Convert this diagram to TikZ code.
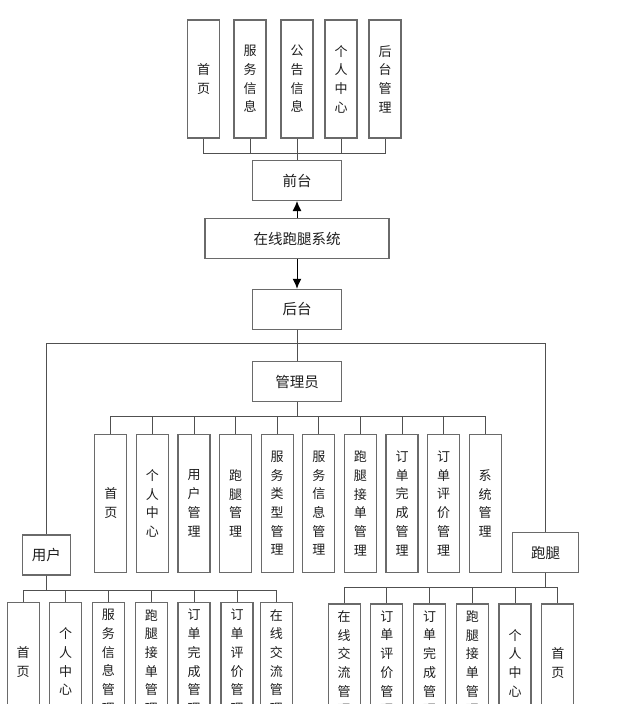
\documentclass[tikz,border=0pt]{standalone}
\usepackage{fontspec}
\setmainfont{Noto Sans CJK SC}
\usepackage{xcolor}
\usetikzlibrary{arrows.meta}
\definecolor{linegray}{HTML}{505050}
\definecolor{boxgray}{HTML}{6A6A6A}
\definecolor{textdark}{HTML}{1E1E1E}

\begin{document}
\begin{tikzpicture}[
    x=1pt, y=-1pt,
    mainbox/.style={rectangle, draw=boxgray, line width=1.1pt, fill=white, text=textdark,
      minimum height=40pt, inner sep=0pt, font=\fontsize{14.5}{17}\selectfont},
    itembox/.style={rectangle, draw=boxgray, line width=1.1pt, fill=white, text=textdark,
      minimum width=32pt, inner sep=0pt, align=center, font=\fontsize{13}{18.7}\selectfont},
    link/.style={draw=linegray, line width=1pt},
  ]

  \useasboundingbox (0,0) rectangle (626,704);
  \clip (0,0) rectangle (626,704);

  % front end
  \node[itembox, minimum height=118pt] (fr1) at (203.5, 79) {首\\页};
  \node[itembox, minimum height=118pt] (fr2) at (250, 79)   {服\\务\\信\\息};
  \node[itembox, minimum height=118pt] (fr3) at (297, 79)   {公\\告\\信\\息};
  \node[itembox, minimum height=118pt] (fr4) at (341, 79)   {个\\人\\中\\心};
  \node[itembox, minimum height=118pt] (fr5) at (385, 79)   {后\\台\\管\\理};

  \node[mainbox, minimum width=89pt]  (qt) at (297, 180.5) {前台};
  \node[mainbox, minimum width=184pt] (xt) at (297, 238.5) {在线跑腿系统};
  \node[mainbox, minimum width=89pt]  (ht) at (297, 309.3) {后台};

  \draw[link] (fr1.south) -- ++(0,15.3) -| (qt.north);
  \draw[link] (fr2.south) -- ++(0,15.3) -| (qt.north);
  \draw[link] (fr3.south) -- (qt.north);
  \draw[link] (fr4.south) -- ++(0,15.3) -| (qt.north);
  \draw[link] (fr5.south) -- ++(0,15.3) -| (qt.north);

  \draw[line width=1pt, -{Latex[length=10pt, width=9pt]}] (xt.north) -- (qt.south);
  \draw[line width=1pt, -{Latex[length=10pt, width=9pt]}] (xt.south) -- (ht.north);

  % back end roles
  \node[mainbox, minimum width=89pt] (gly) at (297, 381.7)   {管理员};
  \node[mainbox, minimum width=48.5pt] (yh) at (46.4, 555)   {用户};
  \node[mainbox, minimum width=66.5pt] (pt) at (545.5, 552.5) {跑腿};

  \draw[link] (ht.south) -- (gly.north);
  \draw[link] (ht.south) -- ++(0,14) -| (yh.north);
  \draw[link] (ht.south) -- ++(0,14) -| (pt.north);

  % administrator
  \node[itembox, minimum height=138pt] (g1)  at (110.8, 503.3) {首\\页};
  \node[itembox, minimum height=138pt] (g2)  at (152.4, 503.3) {个\\人\\中\\心};
  \node[itembox, minimum height=138pt] (g3)  at (194.0, 503.3) {用\\户\\管\\理};
  \node[itembox, minimum height=138pt] (g4)  at (235.6, 503.3) {跑\\腿\\管\\理};
  \node[itembox, minimum height=138pt] (g5)  at (277.2, 503.3) {服\\务\\类\\型\\管\\理};
  \node[itembox, minimum height=138pt] (g6)  at (318.8, 503.3) {服\\务\\信\\息\\管\\理};
  \node[itembox, minimum height=138pt] (g7)  at (360.4, 503.3) {跑\\腿\\接\\单\\管\\理};
  \node[itembox, minimum height=138pt] (g8)  at (402.0, 503.3) {订\\单\\完\\成\\管\\理};
  \node[itembox, minimum height=138pt] (g9)  at (443.6, 503.3) {订\\单\\评\\价\\管\\理};
  \node[itembox, minimum height=138pt] (g10) at (485.2, 503.3) {系\\统\\管\\理};

  \draw[link] (gly.south) -- ++(0,14.3) -| (g1.north);
  \draw[link] (gly.south) -- ++(0,14.3) -| (g2.north);
  \draw[link] (gly.south) -- ++(0,14.3) -| (g3.north);
  \draw[link] (gly.south) -- ++(0,14.3) -| (g4.north);
  \draw[link] (gly.south) -- ++(0,14.3) -| (g5.north);
  \draw[link] (gly.south) -- ++(0,14.3) -| (g6.north);
  \draw[link] (gly.south) -- ++(0,14.3) -| (g7.north);
  \draw[link] (gly.south) -- ++(0,14.3) -| (g8.north);
  \draw[link] (gly.south) -- ++(0,14.3) -| (g9.north);
  \draw[link] (gly.south) -- ++(0,14.3) -| (g10.north);

  % user
  \node[itembox, minimum height=118pt] (u1) at (23.2, 661.7)  {首\\页};
  \node[itembox, minimum height=118pt] (u2) at (65.7, 661.7)  {个\\人\\中\\心};
  \node[itembox, minimum height=118pt] (u3) at (108.3, 661.7) {服\\务\\信\\息\\管\\理};
  \node[itembox, minimum height=118pt] (u4) at (151.3, 661.7) {跑\\腿\\接\\单\\管\\理};
  \node[itembox, minimum height=118pt] (u5) at (194.0, 661.7) {订\\单\\完\\成\\管\\理};
  \node[itembox, minimum height=118pt] (u6) at (237.0, 661.7) {订\\单\\评\\价\\管\\理};
  \node[itembox, minimum height=118pt] (u7) at (276.3, 661.7) {在\\线\\交\\流\\管\\理};

  \draw[link] (yh.south) -- ++(0,15) -| (u1.north);
  \draw[link] (yh.south) -- ++(0,15) -| (u2.north);
  \draw[link] (yh.south) -- ++(0,15) -| (u3.north);
  \draw[link] (yh.south) -- ++(0,15) -| (u4.north);
  \draw[link] (yh.south) -- ++(0,15) -| (u5.north);
  \draw[link] (yh.south) -- ++(0,15) -| (u6.north);
  \draw[link] (yh.south) -- ++(0,15) -| (u7.north);

  % runner
  \node[itembox, minimum height=118pt] (r1) at (344.2, 663) {在\\线\\交\\流\\管\\理};
  \node[itembox, minimum height=118pt] (r2) at (386.8, 663) {订\\单\\评\\价\\管\\理};
  \node[itembox, minimum height=118pt] (r3) at (429.5, 663) {订\\单\\完\\成\\管\\理};
  \node[itembox, minimum height=118pt] (r4) at (472.3, 663) {跑\\腿\\接\\单\\管\\理};
  \node[itembox, minimum height=118pt] (r5) at (515.0, 663) {个\\人\\中\\心};
  \node[itembox, minimum height=118pt] (r6) at (557.8, 663) {首\\页};

  \draw[link] (pt.south) -- ++(0,14.2) -| (r1.north);
  \draw[link] (pt.south) -- ++(0,14.2) -| (r2.north);
  \draw[link] (pt.south) -- ++(0,14.2) -| (r3.north);
  \draw[link] (pt.south) -- ++(0,14.2) -| (r4.north);
  \draw[link] (pt.south) -- ++(0,14.2) -| (r5.north);
  \draw[link] (pt.south) -- ++(0,14.2) -| (r6.north);

\end{tikzpicture}
\end{document}
